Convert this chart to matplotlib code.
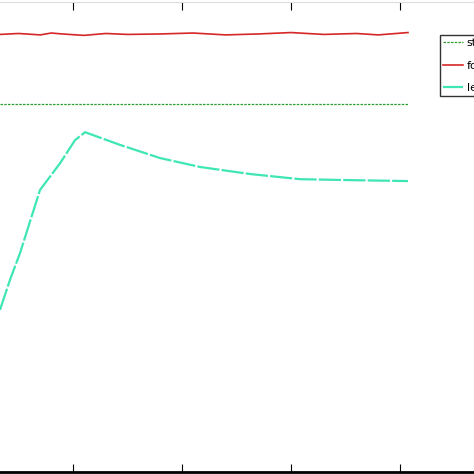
import numpy as np
import matplotlib
matplotlib.use("Agg")
import matplotlib.pyplot as plt

# values (x in time units, y normalised)
cyan_x = [330, 422, 514, 697, 881, 1018, 1110, 1431, 1798, 2165, 2624, 3083, 3541, 4073]
cyan_y = [0.345, 0.409, 0.466, 0.600, 0.657, 0.706, 0.723, 0.696, 0.668, 0.649, 0.634, 0.623, 0.621, 0.619]

red_x = [330, 500, 700, 800, 900, 1100, 1300, 1500, 1800, 2100, 2400, 2700, 3000, 3300, 3600, 3800, 4073]
red_y = [0.931, 0.933, 0.930, 0.934, 0.932, 0.929, 0.933, 0.931, 0.932, 0.934, 0.930, 0.932, 0.935, 0.931, 0.933, 0.930, 0.935]

green_x = [330, 4073]
green_y = [0.783, 0.783]

labels = ["state", "forecast", "level"]

fig = plt.figure(figsize=(4.74, 4.74), dpi=100)
ax = fig.add_axes([0, 2 / 474, 1, 470 / 474])

ax.plot(green_x, green_y, color="#2ca02c", ls=(0, (2, 1)), lw=0.9, label=labels[0])
ax.plot(red_x, red_y, color="#d62728", lw=1.2, label=labels[1])
ax.plot(cyan_x, cyan_y, color="#3ee6b4", lw=1.6, ls=(0, (10, 1)), label=labels[2])

ax.set_xlim(330, 330 + 474 * 1000 / 109)
ax.set_ylim(0, 1)
ax.set_xticks([1000, 2000, 3000, 4000])
ax.set_yticks([])
ax.tick_params(axis="x", direction="in", length=6, top=True, labelbottom=False)
for s in ["left", "right"]:
    ax.spines[s].set_visible(False)
ax.spines["bottom"].set_linewidth(2)
ax.spines["top"].set_color("#dddddd")

ax.legend(loc="upper left", bbox_to_anchor=(440 / 474, 1 - 35 / 474), bbox_transform=fig.transFigure,
          fontsize=8, frameon=True, fancybox=False, edgecolor="black", handlelength=1.8,
          handletextpad=0.3, borderaxespad=0, borderpad=0.3, labelspacing=1.1)

fig.savefig("out.png", dpi=100)
